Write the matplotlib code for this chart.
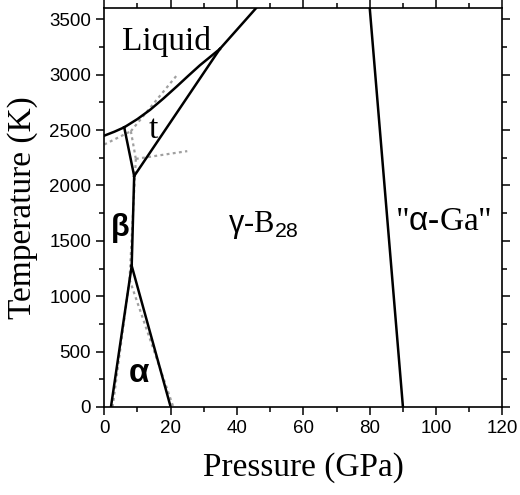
import matplotlib
matplotlib.use("Agg")
import matplotlib.pyplot as plt
from matplotlib.ticker import MultipleLocator

# ---- data: phase boundaries (pressure GPa, temperature K) ----
liq_beta_P = [0.0, 3.0, 6.0]
liq_beta_T = [2450, 2485, 2525]
beta_t_P = [6.0, 9.0]
beta_t_T = [2525, 2085]
beta_gamma_P = [9.0, 8.25]
beta_gamma_T = [2085, 1275]
liq_t_P = [6.0, 10.0, 13.8, 17.8, 21.8, 25.3, 28.8, 34.8]
liq_t_T = [2525, 2600, 2683, 2785, 2893, 2990, 3085, 3232]
t_gamma_P = [9.0, 34.8]
t_gamma_T = [2085, 3232]
liq_gamma_P = [34.8, 45.7]
liq_gamma_T = [3232, 3600]
alpha_beta_P = [2.0, 8.25]
alpha_beta_T = [0, 1275]
alpha_gamma_P = [8.25, 20.0]
alpha_gamma_T = [1275, 0]
gamma_aGa_P = [90.0, 80.0]
gamma_aGa_T = [0, 3600]

# dotted (gray) boundaries
d_liqbeta_P = [0.0, 8.0]
d_liqbeta_T = [2370, 2490]
d_liqt_P = [8.0, 22.0]
d_liqt_T = [2490, 3000]
d_betat_P = [8.0, 9.5]
d_betat_T = [2490, 2240]
d_tgamma_P = [9.5, 25.0]
d_tgamma_T = [2240, 2310]
d_betagamma_P = [9.5, 7.6]
d_betagamma_T = [2240, 1150]
d_alphagamma_P = [7.6, 20.8]
d_alphagamma_T = [1150, 0]
d_alphabeta_P = [2.5, 7.6]
d_alphabeta_T = [0, 1150]

x_ticks = [0, 20, 40, 60, 80, 100, 120]
y_ticks = [0, 500, 1000, 1500, 2000, 2500, 3000, 3500]

solid = [
    (liq_beta_P, liq_beta_T), (beta_t_P, beta_t_T), (beta_gamma_P, beta_gamma_T),
    (liq_t_P, liq_t_T), (t_gamma_P, t_gamma_T), (liq_gamma_P, liq_gamma_T),
    (alpha_beta_P, alpha_beta_T), (alpha_gamma_P, alpha_gamma_T),
    (gamma_aGa_P, gamma_aGa_T),
]
dotted = [
    (d_liqbeta_P, d_liqbeta_T), (d_liqt_P, d_liqt_T), (d_betat_P, d_betat_T),
    (d_tgamma_P, d_tgamma_T), (d_betagamma_P, d_betagamma_T),
    (d_alphagamma_P, d_alphagamma_T), (d_alphabeta_P, d_alphabeta_T),
]

plt.rcParams['mathtext.fontset'] = 'custom'
plt.rcParams['mathtext.rm'] = 'Liberation Sans'
plt.rcParams['mathtext.bf'] = 'Liberation Sans:bold'

fig = plt.figure(figsize=(5.2, 4.95), dpi=100)
ax = fig.add_axes([0.2006, 0.1778, 0.7657, 0.8055])

for P, T in dotted:
    ax.plot(P, T, color='#a0a0a0', lw=1.6, linestyle=(0, (1.3, 1.5)),
            solid_capstyle='butt', zorder=2)
for P, T in solid:
    ax.plot(P, T, color='black', lw=1.8, zorder=3, clip_on=True,
            solid_joinstyle='round')

ax.set_xlim(0, 120)
ax.set_ylim(0, 3600)
ax.set_xticks(x_ticks)
ax.set_yticks(y_ticks)
ax.xaxis.set_minor_locator(MultipleLocator(10))
ax.yaxis.set_minor_locator(MultipleLocator(250))
ax.tick_params(which='both', direction='out', top=True, right=True,
               width=1.1, colors='black')
ax.tick_params(which='major', length=6)
ax.tick_params(which='minor', length=3.5)
for lab in ax.get_xticklabels() + ax.get_yticklabels():
    lab.set_fontfamily('Liberation Sans')
    lab.set_fontsize(13.5)
for s in ax.spines.values():
    s.set_linewidth(1.2)

ax.set_xlabel('Pressure (GPa)', family='Liberation Serif', fontsize=24, labelpad=11)
ax.set_ylabel('Temperature (K)', family='Liberation Serif', fontsize=24, labelpad=8)

tk = dict(family='Liberation Serif', color='black')
ax.text(5.2, 3225, 'Liquid', fontsize=24, ha='left', va='baseline', **tk)
ax.text(14.8, 2502, 't', fontsize=24, ha='center', va='center', **tk)
ax.text(4.7, 1614, '$\\mathbf{β}$', fontsize=22, ha='center', va='center', **tk)
ax.text(37.4, 1584, '$\\mathrm{γ}$-B$_{28}$', fontsize=22, ha='left', va='baseline', **tk)
ax.text(10.5, 304, '$\\mathbf{α}$', fontsize=24, ha='center', va='center', **tk)
ax.text(102.1, 1674, '"$\\mathrm{α}$-Ga"', fontsize=24, ha='center', va='center', **tk)

fig.savefig('out.png', dpi=100)
